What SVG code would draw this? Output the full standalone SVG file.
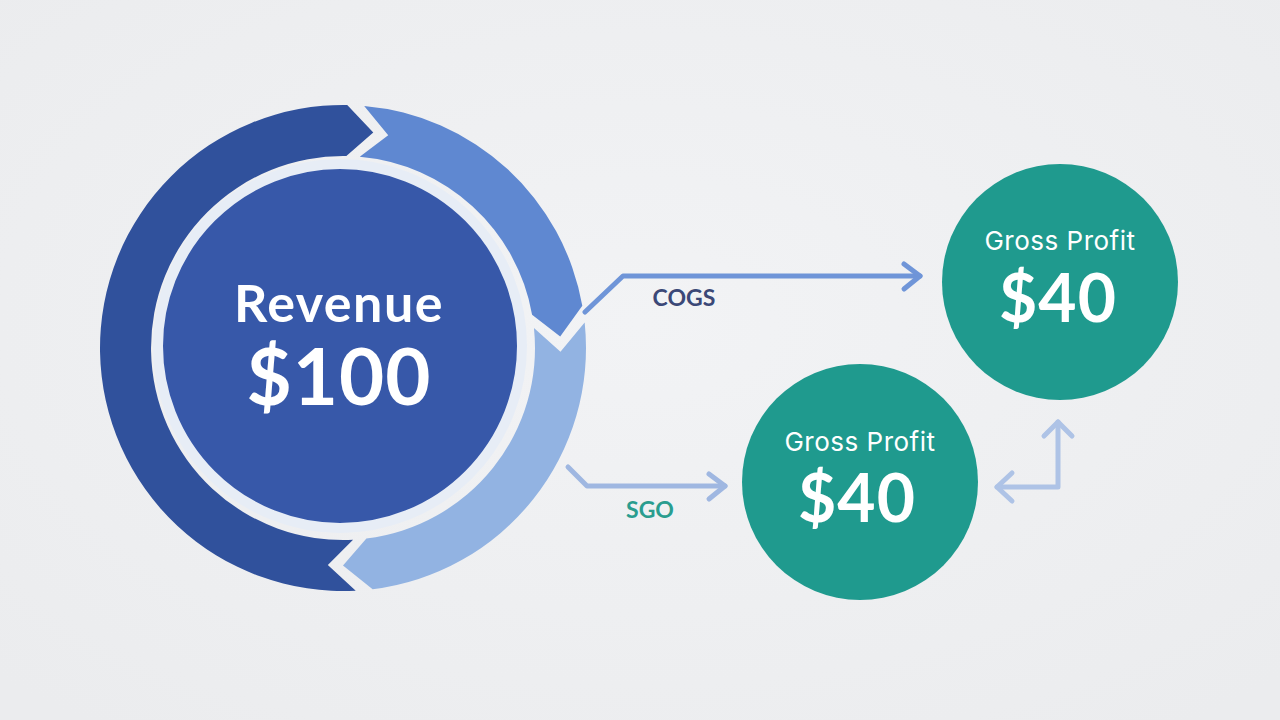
<svg xmlns="http://www.w3.org/2000/svg" width="1280" height="720" viewBox="0 0 1280 720">
  <style>
    .lbl { font-family: Lato, "Liberation Sans", sans-serif; fill: #ffffff; text-anchor: middle; }
    .big { font-weight: 700; }
    .gp { font-family: Inter, "Liberation Sans", sans-serif; font-weight: 400; fill: #ffffff; text-anchor: middle; font-size: 26px; }
    .conn { fill: none; stroke-width: 5; stroke-linecap: round; stroke-linejoin: round; }
    .clabel { font-family: Lato, "Liberation Sans", sans-serif; font-weight: 700; font-size: 23px; }
  </style>
  <defs>
    <radialGradient id="bg" cx="50%" cy="45%" r="70%">
      <stop offset="0" stop-color="#f2f3f5"/>
      <stop offset="1" stop-color="#ebecee"/>
    </radialGradient>
  </defs>
  <rect width="1280" height="720" fill="url(#bg)"/>

  <g id="revenue">
    <path d="M355.72,590.67 A243,243 0 1 1 347.24,105.04 L373.27,132.62 L346.35,156.03 A192,192 0 1 0 353.05,539.74 L327.83,564.97 Z" fill="#30519c"/>
    <path d="M364.18,105.93 A243,243 0 0 1 582.31,305.80 L560.20,336.62 L532.08,314.66 A192,192 0 0 0 359.73,156.73 L388.22,135.25 Z" fill="#5f88d1"/>
    <path d="M584.67,322.60 A243,243 0 0 1 372.61,589.19 L343,565.5 L366.40,538.57 A192,192 0 0 0 533.95,327.93 L560.47,351.80 Z" fill="#92b3e2"/>
    <circle cx="340" cy="346" r="182" fill="#3758a9" stroke="#e7edf6" stroke-width="10"/>
    <text class="lbl big" x="339" y="322" font-size="52" letter-spacing="1.5">Revenue</text>
    <text class="lbl big" x="339" y="405" font-size="78" letter-spacing="1">$100</text>
  </g>

  <g id="gross-profit-top">
    <circle cx="1060" cy="282" r="118" fill="#1f9a8e"/>
    <text class="gp" x="1060" y="250" letter-spacing="0.5">Gross Profit</text>
    <text class="lbl big" x="1058" y="322" font-size="66" letter-spacing="1">$40</text>
  </g>

  <g id="gross-profit-bottom">
    <circle cx="860" cy="482" r="118" fill="#1f9a8e"/>
    <text class="gp" x="860" y="451" letter-spacing="0.5">Gross Profit</text>
    <text class="lbl big" x="857" y="522" font-size="66" letter-spacing="1">$40</text>
  </g>

  <g id="connectors">
    <polyline class="conn" stroke="#6f95d8" points="585,312 623,276 920,276"/>
    <polyline class="conn" stroke="#6f95d8" points="904,264 920,276 904,289"/>
    <polyline class="conn" stroke="#9fb7e1" points="568,467 587,486 725,486"/>
    <polyline class="conn" stroke="#9fb7e1" points="709,474 725,486 709,499"/>
    <polyline class="conn" stroke="#aec3e6" points="1058,422 1058,487 997,487"/>
    <polyline class="conn" stroke="#aec3e6" points="1044,436 1058,422 1072,436"/>
    <polyline class="conn" stroke="#aec3e6" points="1012,473 997,487 1012,501"/>
  </g>

  <g id="labels">
    <text class="clabel" x="684" y="306" fill="#3b4877" text-anchor="middle">COGS</text>
    <text class="clabel" x="650" y="518" fill="#2a9d8f" text-anchor="middle">SGO</text>
  </g>
</svg>
